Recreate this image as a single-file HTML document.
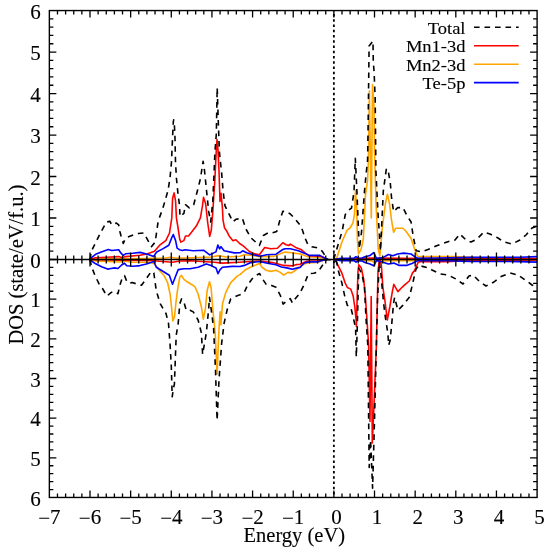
<!DOCTYPE html>
<html><head><meta charset="utf-8"><title>DOS</title>
<style>html,body{margin:0;padding:0;background:#fff;}svg{display:block;}text{font-family:"Liberation Serif","Times New Roman",serif;fill:#000;stroke:#000;stroke-width:0.12px;}</style>
</head><body>
<svg width="550" height="554" viewBox="0 0 550 554">
<rect x="0" y="0" width="550" height="554" fill="#fff"/>
<polyline points="89.3,259.5 95.7,260.9 107.5,261.5 119.2,262.0 124.5,260.9 131.0,262.3 140.0,262.3 149.8,262.3 154.6,263.9 159.5,270.4 164.4,276.1 167.6,282.6 170.1,294.0 171.7,308.7 172.8,320.9 174.5,316.8 175.8,303.8 177.4,290.8 179.8,277.0 181.5,275.3 183.9,279.4 187.2,281.8 190.0,283.5 194.9,286.7 198.1,294.0 201.4,307.0 203.3,319.2 205.4,308.7 207.1,290.8 209.5,281.8 211.1,287.5 212.8,308.7 215.2,333.0 217.1,374.2 218.5,340.0 219.3,323.3 220.1,311.9 220.9,324.9 222.5,303.8 225.8,292.4 230.7,282.6 237.2,276.1 240.0,274.6 245.5,269.7 250.9,267.0 256.4,264.8 259.6,263.2 261.8,267.0 266.2,270.3 270.5,271.4 276.0,270.3 280.3,272.4 283.6,275.2 288.0,272.4 291.3,273.0 295.6,270.3 298.7,267.3 306.3,263.0 317.1,262.5 325.8,259.5" fill="none" stroke="#ffa500" stroke-width="1.6" stroke-linejoin="round"/><polyline points="334.0,259.5 350.0,260.5 365.0,260.5 372.0,261.0 374.5,263.0 377.0,261.0 400.0,260.5 432.0,261.0 470.0,260.5 537.1,260.0" fill="none" stroke="#ffa500" stroke-width="1.6" stroke-linejoin="round"/>
<polyline points="89.3,259.5 107.0,258.7 144.0,258.5 165.0,258.0 170.3,257.3 175.0,258.0 185.0,258.0 211.7,257.0 217.9,255.6 226.2,257.0 240.0,256.2 244.0,254.8 253.4,255.5 260.0,256.8 273.4,256.4 282.8,252.8 285.0,252.1 291.7,252.8 301.0,254.1 307.7,256.8 319.7,257.4 325.8,258.5 327.7,259.4" fill="none" stroke="#ffa500" stroke-width="1.6" stroke-linejoin="round"/><polyline points="334.0,259.5 336.7,258.3 339.5,249.5 341.9,242.0 344.5,236.0 347.1,230.2 350.0,228.0 353.0,222.8 354.5,214.0 355.5,190.3 356.7,209.5 357.4,239.1 358.5,253.9 361.1,249.4 363.3,239.1 364.8,209.5 365.5,194.8 367.6,180.0 368.4,160.0 369.4,90.8 371.3,218.0 372.5,84.5 374.0,107.0 374.5,150.0 376.1,205.0 378.2,248.8 379.8,256.0 382.3,228.2 385.4,203.5 387.4,194.2 389.5,203.5 391.5,220.0 393.6,232.3 395.7,228.2 402.9,228.2 406.0,231.3 411.1,238.5 415.2,250.8 417.6,256.2 420.0,256.5 453.6,256.5 470.0,257.3 500.0,258.5 537.1,258.8" fill="none" stroke="#ffa500" stroke-width="1.6" stroke-linejoin="round"/>
<polyline points="89.0,259.5 120.0,260.3 150.0,260.5 172.5,262.3 180.0,261.0 190.0,260.7 214.4,262.3 222.5,263.1 238.8,262.3 250.9,261.5 259.6,261.0 272.7,262.6 283.6,265.4 292.3,265.9 296.5,264.6 300.0,264.3 306.3,261.4 317.1,260.8 325.8,259.5" fill="none" stroke="#ff0000" stroke-width="1.6" stroke-linejoin="round"/><polyline points="334.0,259.5 335.3,259.9 338.5,266.4 341.8,272.9 345.0,282.6 347.4,287.5 350.7,289.1 353.1,295.7 354.8,307.0 356.1,320.0 356.4,326.5 357.2,295.7 358.0,271.3 358.8,264.8 361.3,268.0 363.7,279.4 365.3,295.7 367.0,320.0 368.6,345.0 370.0,421.5 371.2,296.5 372.3,443.0 374.2,400.0 376.4,345.0 378.0,271.3 379.6,258.3 381.3,264.8 382.9,287.5 384.9,300.5 387.3,320.0 389.8,307.0 392.2,292.4 393.8,284.3 397.9,291.6 401.1,288.3 404.4,285.1 409.3,281.0 412.5,272.9 414.4,270.9 418.2,262.2 420.0,261.7 448.0,261.7 470.0,260.3 537.1,260.0" fill="none" stroke="#ff0000" stroke-width="1.6" stroke-linejoin="round"/>
<polyline points="89.2,259.5 95.6,257.8 107.1,257.2 118.7,256.6 122.1,257.8 125.6,256.6 140.0,255.3 147.0,254.0 154.4,251.2 159.7,245.2 165.8,240.6 169.5,233.0 171.8,217.9 172.6,198.2 174.1,192.9 175.6,201.2 176.4,217.9 177.9,227.0 179.7,239.1 180.9,242.1 183.9,240.6 185.5,236.0 188.5,236.0 191.5,232.3 196.3,226.1 200.4,217.9 202.5,205.6 203.5,197.3 205.6,203.5 207.6,222.0 209.7,236.4 211.3,230.2 212.8,211.7 214.8,180.9 216.3,150.0 217.0,139.6 218.0,150.0 219.0,170.6 220.0,201.4 221.0,193.2 222.4,207.6 223.0,219.8 224.5,227.8 226.5,230.7 229.0,235.7 232.9,240.7 235.9,239.7 239.9,243.7 242.9,245.6 247.8,250.0 249.4,251.5 254.7,253.9 259.4,254.8 264.7,247.5 270.7,248.8 277.4,248.2 282.8,242.8 286.1,244.8 289.0,245.4 290.3,244.1 295.7,247.4 301.0,249.4 305.0,252.8 309.0,255.7 319.7,256.1 325.0,258.1 327.7,259.4" fill="none" stroke="#ff0000" stroke-width="1.6" stroke-linejoin="round"/><polyline points="334.0,259.5 372.0,258.0 432.0,258.5 537.1,258.5" fill="none" stroke="#ff0000" stroke-width="1.6" stroke-linejoin="round"/>
<polyline points="89.3,259.5 95.7,263.8 101.6,266.7 107.5,269.1 111.0,268.5 114.5,267.9 118.0,268.5 121.6,265.0 124.5,263.2 126.8,265.8 133.3,266.2 140.0,265.6 146.5,263.9 153.8,261.5 156.3,267.2 162.8,271.3 169.3,275.3 172.5,284.3 175.0,277.8 178.2,269.6 183.9,268.8 190.0,268.8 198.1,267.2 206.3,263.9 211.1,265.6 216.0,268.0 218.0,273.7 220.1,269.6 222.5,267.2 232.3,266.4 240.0,266.5 244.4,265.4 250.9,262.6 259.6,261.5 267.3,263.2 276.0,264.8 281.4,267.0 288.0,268.1 292.3,269.2 296.7,268.1 300.0,267.5 304.1,263.0 309.5,261.9 317.1,261.9 325.8,259.5" fill="none" stroke="#0000ff" stroke-width="1.6" stroke-linejoin="round"/><polyline points="334.0,259.5 341.0,260.7 354.0,260.7 356.0,262.2 358.0,260.7 362.0,261.0 365.0,262.5 370.0,264.0 373.8,265.8 376.5,260.4 382.9,262.2 388.4,264.0 393.8,263.1 399.3,265.4 406.5,265.4 412.0,263.5 417.5,260.8 440.0,260.5 470.0,261.4 520.0,261.6 537.1,262.1" fill="none" stroke="#0000ff" stroke-width="1.6" stroke-linejoin="round"/>
<polyline points="89.2,259.5 95.6,254.3 101.3,252.0 108.3,249.5 111.7,250.5 118.7,249.7 121.0,253.2 123.3,255.3 125.6,253.8 132.6,253.2 140.0,252.4 147.6,254.2 153.6,256.5 156.7,252.0 162.7,248.9 168.8,245.2 171.8,237.6 173.3,234.5 175.6,240.6 177.1,248.2 179.4,249.7 182.4,250.5 185.0,249.8 193.2,250.8 203.5,250.2 209.7,254.9 215.9,251.9 217.9,245.1 219.6,248.8 221.0,246.7 224.1,250.8 234.4,252.9 240.0,252.8 242.7,250.8 246.7,252.8 253.4,254.8 260.0,256.2 266.7,254.8 276.1,254.2 282.8,249.5 285.0,248.7 290.3,248.7 298.4,250.7 305.0,253.4 309.0,255.4 319.7,255.4 325.0,258.1 327.7,259.4" fill="none" stroke="#0000ff" stroke-width="1.6" stroke-linejoin="round"/><polyline points="334.0,259.5 341.0,258.2 354.0,258.2 356.0,256.7 358.0,258.2 362.0,258.0 365.0,256.7 370.0,255.5 373.8,252.6 376.5,258.5 382.9,257.6 388.4,254.5 392.9,255.8 397.5,254.0 403.8,253.1 411.1,254.0 414.7,256.7 417.5,258.3 440.0,258.0 470.0,257.4 520.0,257.2 537.1,256.6" fill="none" stroke="#0000ff" stroke-width="1.6" stroke-linejoin="round"/>
<polyline points="89.9,259.5 91.6,266.7 95.2,276.1 99.3,284.3 102.8,289.0 106.9,296.1 111.0,292.6 113.3,291.4 118.0,293.7 119.8,285.5 122.1,278.5 124.5,275.5 126.3,280.2 128.6,283.2 132.1,282.6 138.0,284.3 141.5,285.3 145.7,279.4 151.4,271.3 153.8,272.9 156.3,290.8 160.3,303.8 166.0,313.5 168.5,323.3 170.1,345.0 171.3,366.1 172.2,396.8 173.5,387.8 174.4,384.2 176.2,335.4 178.2,323.3 179.8,303.8 181.5,298.9 183.9,302.2 186.3,310.3 190.0,310.3 193.3,311.9 198.1,320.0 201.4,333.0 202.6,354.4 206.3,333.0 208.7,308.7 209.5,297.3 211.1,308.7 213.6,328.2 215.5,370.0 217.1,420.3 219.0,380.0 221.7,342.8 224.1,323.3 227.4,308.7 230.7,298.9 237.2,295.7 241.0,294.5 244.4,292.1 247.6,285.0 252.0,279.0 256.4,275.2 259.6,273.5 261.8,277.9 266.2,284.4 271.6,285.5 276.0,287.2 280.3,295.3 283.1,304.1 286.9,300.8 290.2,298.6 292.5,303.0 294.3,299.8 299.8,293.3 304.1,284.7 308.4,273.8 313.8,273.3 318.2,271.7 322.5,265.2 325.8,260.8 326.8,259.5 334.4,259.9 336.6,261.9 338.5,271.3 341.8,282.6 345.0,297.3 347.4,305.4 350.7,307.0 353.1,316.8 355.6,328.2 356.3,357.0 357.2,330.0 358.8,268.0 362.1,274.5 364.5,287.5 366.1,320.0 367.8,345.0 369.2,467.5 370.6,440.0 372.6,488.2 374.5,420.0 376.4,345.0 377.5,300.0 379.3,262.0 381.0,275.0 383.7,303.8 385.3,316.8 387.8,333.0 388.7,345.3 390.2,340.0 391.8,323.3 393.5,303.8 394.6,297.3 397.9,310.3 402.8,305.4 409.3,297.3 412.5,284.3 415.8,269.6 419.0,264.8 422.3,266.4 428.8,268.0 432.0,270.0 440.0,274.0 448.0,275.0 456.0,279.0 463.0,284.0 469.0,276.0 473.0,275.0 480.0,282.0 486.0,286.0 494.0,282.0 500.0,277.0 510.0,273.0 518.0,275.0 528.0,282.0 532.0,285.0 537.1,287.0" fill="none" stroke="#000" stroke-width="1.6" stroke-linejoin="round" stroke-dasharray="5.6,4.9"/>
<polyline points="90.4,259.5 90.9,252.0 95.6,242.8 100.2,233.5 106.5,222.0 110.0,221.4 111.7,224.9 116.4,223.1 118.7,224.9 119.8,231.2 121.0,235.8 123.3,243.4 125.0,239.3 127.9,237.0 133.7,234.7 138.3,233.5 143.8,233.0 151.4,246.7 155.2,242.1 158.2,220.9 162.7,208.8 168.0,190.6 170.0,178.0 171.5,161.8 172.7,134.5 173.3,122.0 173.7,119.8 174.2,122.0 174.9,134.5 175.5,161.8 176.4,178.0 178.0,193.9 179.4,204.2 180.1,216.6 183.9,213.3 185.5,204.7 189.3,207.9 193.7,204.7 197.3,191.2 200.4,178.8 203.1,161.3 204.5,170.6 206.6,191.2 208.7,211.7 210.7,222.0 212.8,201.4 214.0,173.9 214.9,152.2 216.3,134.2 217.2,87.6 218.1,116.1 219.4,152.2 221.7,173.9 223.1,191.2 225.0,205.9 229.0,213.9 232.9,221.8 235.9,219.3 242.4,218.3 245.8,228.8 250.8,237.7 255.0,241.5 259.4,245.5 263.4,235.5 268.1,232.8 272.1,232.8 276.8,231.4 280.1,219.4 282.8,211.4 286.1,211.4 290.3,214.0 294.3,218.0 299.7,224.7 302.4,230.0 305.0,238.0 307.7,244.1 311.7,246.7 318.4,248.1 322.4,251.4 325.7,256.8 327.7,259.4" fill="none" stroke="#000" stroke-width="1.6" stroke-linejoin="round" stroke-dasharray="5.6,4.9"/><polyline points="333.7,259.5 337.1,248.0 342.2,231.0 345.3,214.5 348.1,210.7 351.5,208.1 354.0,192.0 355.3,158.2 356.9,191.2 358.4,228.2 359.4,248.8 361.5,232.3 364.5,191.2 366.0,174.9 367.6,160.3 368.2,120.0 369.1,46.0 373.0,41.0 373.3,62.6 374.1,71.7 375.2,99.4 375.9,170.6 377.9,211.7 380.5,251.0 383.3,191.2 386.4,168.5 388.5,172.6 390.3,182.9 391.5,197.3 393.6,211.7 397.7,207.6 402.9,207.6 407.0,215.8 411.1,222.0 413.2,236.4 416.2,250.8 421.4,251.9 428.0,249.6 436.0,246.0 444.0,243.0 450.0,241.0 455.0,240.0 460.0,234.0 466.0,240.0 471.0,242.0 477.0,239.0 484.0,232.0 490.0,234.0 498.0,238.0 504.0,242.0 512.0,244.0 520.0,240.0 526.0,235.0 532.0,228.0 537.1,226.0" fill="none" stroke="#000" stroke-width="1.6" stroke-linejoin="round" stroke-dasharray="5.6,4.9"/>
<path d="M49.36 259.5H537.1" stroke="#000" stroke-width="1.5"/>
<path d="M333.87 10.56V497.46" stroke="#000" stroke-width="1.8" stroke-dasharray="2.4,2.852" stroke-dashoffset="1.754"/>
<path d="M57.48 10.56L57.48 14.56M57.48 497.46L57.48 493.46M57.48 255.50L57.48 263.50M65.61 10.56L65.61 14.56M65.61 497.46L65.61 493.46M65.61 255.50L65.61 263.50M73.74 10.56L73.74 14.56M73.74 497.46L73.74 493.46M73.74 255.50L73.74 263.50M81.87 10.56L81.87 14.56M81.87 497.46L81.87 493.46M81.87 255.50L81.87 263.50M90.00 10.56L90.00 17.56M90.00 497.46L90.00 490.46M90.00 252.50L90.00 266.50M98.13 10.56L98.13 14.56M98.13 497.46L98.13 493.46M98.13 255.50L98.13 263.50M106.26 10.56L106.26 14.56M106.26 497.46L106.26 493.46M106.26 255.50L106.26 263.50M114.39 10.56L114.39 14.56M114.39 497.46L114.39 493.46M114.39 255.50L114.39 263.50M122.52 10.56L122.52 14.56M122.52 497.46L122.52 493.46M122.52 255.50L122.52 263.50M130.64 10.56L130.64 17.56M130.64 497.46L130.64 490.46M130.64 252.50L130.64 266.50M138.77 10.56L138.77 14.56M138.77 497.46L138.77 493.46M138.77 255.50L138.77 263.50M146.90 10.56L146.90 14.56M146.90 497.46L146.90 493.46M146.90 255.50L146.90 263.50M155.03 10.56L155.03 14.56M155.03 497.46L155.03 493.46M155.03 255.50L155.03 263.50M163.16 10.56L163.16 14.56M163.16 497.46L163.16 493.46M163.16 255.50L163.16 263.50M171.29 10.56L171.29 17.56M171.29 497.46L171.29 490.46M171.29 252.50L171.29 266.50M179.42 10.56L179.42 14.56M179.42 497.46L179.42 493.46M179.42 255.50L179.42 263.50M187.55 10.56L187.55 14.56M187.55 497.46L187.55 493.46M187.55 255.50L187.55 263.50M195.68 10.56L195.68 14.56M195.68 497.46L195.68 493.46M195.68 255.50L195.68 263.50M203.81 10.56L203.81 14.56M203.81 497.46L203.81 493.46M203.81 255.50L203.81 263.50M211.94 10.56L211.94 17.56M211.94 497.46L211.94 490.46M211.94 252.50L211.94 266.50M220.06 10.56L220.06 14.56M220.06 497.46L220.06 493.46M220.06 255.50L220.06 263.50M228.19 10.56L228.19 14.56M228.19 497.46L228.19 493.46M228.19 255.50L228.19 263.50M236.32 10.56L236.32 14.56M236.32 497.46L236.32 493.46M236.32 255.50L236.32 263.50M244.45 10.56L244.45 14.56M244.45 497.46L244.45 493.46M244.45 255.50L244.45 263.50M252.58 10.56L252.58 17.56M252.58 497.46L252.58 490.46M252.58 252.50L252.58 266.50M260.71 10.56L260.71 14.56M260.71 497.46L260.71 493.46M260.71 255.50L260.71 263.50M268.84 10.56L268.84 14.56M268.84 497.46L268.84 493.46M268.84 255.50L268.84 263.50M276.97 10.56L276.97 14.56M276.97 497.46L276.97 493.46M276.97 255.50L276.97 263.50M285.10 10.56L285.10 14.56M285.10 497.46L285.10 493.46M285.10 255.50L285.10 263.50M293.23 10.56L293.23 17.56M293.23 497.46L293.23 490.46M293.23 252.50L293.23 266.50M301.35 10.56L301.35 14.56M301.35 497.46L301.35 493.46M301.35 255.50L301.35 263.50M309.48 10.56L309.48 14.56M309.48 497.46L309.48 493.46M309.48 255.50L309.48 263.50M317.61 10.56L317.61 14.56M317.61 497.46L317.61 493.46M317.61 255.50L317.61 263.50M325.74 10.56L325.74 14.56M325.74 497.46L325.74 493.46M325.74 255.50L325.74 263.50M333.87 10.56L333.87 17.56M333.87 497.46L333.87 490.46M333.87 252.50L333.87 266.50M342.00 10.56L342.00 14.56M342.00 497.46L342.00 493.46M342.00 255.50L342.00 263.50M350.13 10.56L350.13 14.56M350.13 497.46L350.13 493.46M350.13 255.50L350.13 263.50M358.26 10.56L358.26 14.56M358.26 497.46L358.26 493.46M358.26 255.50L358.26 263.50M366.39 10.56L366.39 14.56M366.39 497.46L366.39 493.46M366.39 255.50L366.39 263.50M374.51 10.56L374.51 17.56M374.51 497.46L374.51 490.46M374.51 252.50L374.51 266.50M382.64 10.56L382.64 14.56M382.64 497.46L382.64 493.46M382.64 255.50L382.64 263.50M390.77 10.56L390.77 14.56M390.77 497.46L390.77 493.46M390.77 255.50L390.77 263.50M398.90 10.56L398.90 14.56M398.90 497.46L398.90 493.46M398.90 255.50L398.90 263.50M407.03 10.56L407.03 14.56M407.03 497.46L407.03 493.46M407.03 255.50L407.03 263.50M415.16 10.56L415.16 17.56M415.16 497.46L415.16 490.46M415.16 252.50L415.16 266.50M423.29 10.56L423.29 14.56M423.29 497.46L423.29 493.46M423.29 255.50L423.29 263.50M431.42 10.56L431.42 14.56M431.42 497.46L431.42 493.46M431.42 255.50L431.42 263.50M439.55 10.56L439.55 14.56M439.55 497.46L439.55 493.46M439.55 255.50L439.55 263.50M447.68 10.56L447.68 14.56M447.68 497.46L447.68 493.46M447.68 255.50L447.68 263.50M455.81 10.56L455.81 17.56M455.81 497.46L455.81 490.46M455.81 252.50L455.81 266.50M463.93 10.56L463.93 14.56M463.93 497.46L463.93 493.46M463.93 255.50L463.93 263.50M472.06 10.56L472.06 14.56M472.06 497.46L472.06 493.46M472.06 255.50L472.06 263.50M480.19 10.56L480.19 14.56M480.19 497.46L480.19 493.46M480.19 255.50L480.19 263.50M488.32 10.56L488.32 14.56M488.32 497.46L488.32 493.46M488.32 255.50L488.32 263.50M496.45 10.56L496.45 17.56M496.45 497.46L496.45 490.46M496.45 252.50L496.45 266.50M504.58 10.56L504.58 14.56M504.58 497.46L504.58 493.46M504.58 255.50L504.58 263.50M512.71 10.56L512.71 14.56M512.71 497.46L512.71 493.46M512.71 255.50L512.71 263.50M520.84 10.56L520.84 14.56M520.84 497.46L520.84 493.46M520.84 255.50L520.84 263.50M528.97 10.56L528.97 14.56M528.97 497.46L528.97 493.46M528.97 255.50L528.97 263.50M49.36 251.20L53.36 251.20M537.10 251.20L533.10 251.20M49.36 267.43L53.36 267.43M537.10 267.43L533.10 267.43M49.36 242.90L53.36 242.90M537.10 242.90L533.10 242.90M49.36 275.36L53.36 275.36M537.10 275.36L533.10 275.36M49.36 234.61L53.36 234.61M537.10 234.61L533.10 234.61M49.36 283.30L53.36 283.30M537.10 283.30L533.10 283.30M49.36 226.31L53.36 226.31M537.10 226.31L533.10 226.31M49.36 291.23L53.36 291.23M537.10 291.23L533.10 291.23M49.36 218.01L56.36 218.01M537.10 218.01L530.10 218.01M49.36 299.16L56.36 299.16M537.10 299.16L530.10 299.16M49.36 209.71L53.36 209.71M537.10 209.71L533.10 209.71M49.36 307.09L53.36 307.09M537.10 307.09L533.10 307.09M49.36 201.41L53.36 201.41M537.10 201.41L533.10 201.41M49.36 315.02L53.36 315.02M537.10 315.02L533.10 315.02M49.36 193.12L53.36 193.12M537.10 193.12L533.10 193.12M49.36 322.96L53.36 322.96M537.10 322.96L533.10 322.96M49.36 184.82L53.36 184.82M537.10 184.82L533.10 184.82M49.36 330.89L53.36 330.89M537.10 330.89L533.10 330.89M49.36 176.52L56.36 176.52M537.10 176.52L530.10 176.52M49.36 338.82L56.36 338.82M537.10 338.82L530.10 338.82M49.36 168.22L53.36 168.22M537.10 168.22L533.10 168.22M49.36 346.75L53.36 346.75M537.10 346.75L533.10 346.75M49.36 159.92L53.36 159.92M537.10 159.92L533.10 159.92M49.36 354.68L53.36 354.68M537.10 354.68L533.10 354.68M49.36 151.63L53.36 151.63M537.10 151.63L533.10 151.63M49.36 362.62L53.36 362.62M537.10 362.62L533.10 362.62M49.36 143.33L53.36 143.33M537.10 143.33L533.10 143.33M49.36 370.55L53.36 370.55M537.10 370.55L533.10 370.55M49.36 135.03L56.36 135.03M537.10 135.03L530.10 135.03M49.36 378.48L56.36 378.48M537.10 378.48L530.10 378.48M49.36 126.73L53.36 126.73M537.10 126.73L533.10 126.73M49.36 386.41L53.36 386.41M537.10 386.41L533.10 386.41M49.36 118.43L53.36 118.43M537.10 118.43L533.10 118.43M49.36 394.34L53.36 394.34M537.10 394.34L533.10 394.34M49.36 110.14L53.36 110.14M537.10 110.14L533.10 110.14M49.36 402.28L53.36 402.28M537.10 402.28L533.10 402.28M49.36 101.84L53.36 101.84M537.10 101.84L533.10 101.84M49.36 410.21L53.36 410.21M537.10 410.21L533.10 410.21M49.36 93.54L56.36 93.54M537.10 93.54L530.10 93.54M49.36 418.14L56.36 418.14M537.10 418.14L530.10 418.14M49.36 85.24L53.36 85.24M537.10 85.24L533.10 85.24M49.36 426.07L53.36 426.07M537.10 426.07L533.10 426.07M49.36 76.94L53.36 76.94M537.10 76.94L533.10 76.94M49.36 434.00L53.36 434.00M537.10 434.00L533.10 434.00M49.36 68.65L53.36 68.65M537.10 68.65L533.10 68.65M49.36 441.94L53.36 441.94M537.10 441.94L533.10 441.94M49.36 60.35L53.36 60.35M537.10 60.35L533.10 60.35M49.36 449.87L53.36 449.87M537.10 449.87L533.10 449.87M49.36 52.05L56.36 52.05M537.10 52.05L530.10 52.05M49.36 457.80L56.36 457.80M537.10 457.80L530.10 457.80M49.36 43.75L53.36 43.75M537.10 43.75L533.10 43.75M49.36 465.73L53.36 465.73M537.10 465.73L533.10 465.73M49.36 35.45L53.36 35.45M537.10 35.45L533.10 35.45M49.36 473.66L53.36 473.66M537.10 473.66L533.10 473.66M49.36 27.16L53.36 27.16M537.10 27.16L533.10 27.16M49.36 481.60L53.36 481.60M537.10 481.60L533.10 481.60M49.36 18.86L53.36 18.86M537.10 18.86L533.10 18.86M49.36 489.53L53.36 489.53M537.10 489.53L533.10 489.53M49.36 259.50L56.36 259.50" stroke="#000" stroke-width="1.3" fill="none"/>
<rect x="49.36" y="10.56" width="487.74" height="486.9" fill="none" stroke="#000" stroke-width="1.4"/>
<path d="M474 27.3H518.7" stroke="#000" stroke-width="1.6" stroke-dasharray="5.6,4.9"/>
<text x="427.75" y="33.6" font-size="17.6" textLength="37.75" lengthAdjust="spacingAndGlyphs">Total</text>
<path d="M474 45.8H518.7" stroke="#ff0000" stroke-width="1.6"/>
<text x="405.90" y="52.1" font-size="17.6" textLength="59.6" lengthAdjust="spacingAndGlyphs">Mn1-3d</text>
<path d="M474 64.2H518.7" stroke="#ffa500" stroke-width="1.6"/>
<text x="405.90" y="70.5" font-size="17.6" textLength="59.6" lengthAdjust="spacingAndGlyphs">Mn2-3d</text>
<path d="M474 82.6H518.7" stroke="#0000ff" stroke-width="1.6"/>
<text x="422.60" y="88.9" font-size="17.6" textLength="42.9" lengthAdjust="spacingAndGlyphs">Te-5p</text>
<text x="49.4" y="524" text-anchor="middle" font-size="21"><tspan dy="1">−</tspan><tspan dy="-1">7</tspan></text>
<text x="90.0" y="524" text-anchor="middle" font-size="21"><tspan dy="1">−</tspan><tspan dy="-1">6</tspan></text>
<text x="130.6" y="524" text-anchor="middle" font-size="21"><tspan dy="1">−</tspan><tspan dy="-1">5</tspan></text>
<text x="171.3" y="524" text-anchor="middle" font-size="21"><tspan dy="1">−</tspan><tspan dy="-1">4</tspan></text>
<text x="211.9" y="524" text-anchor="middle" font-size="21"><tspan dy="1">−</tspan><tspan dy="-1">3</tspan></text>
<text x="252.6" y="524" text-anchor="middle" font-size="21"><tspan dy="1">−</tspan><tspan dy="-1">2</tspan></text>
<text x="293.2" y="524" text-anchor="middle" font-size="21"><tspan dy="1">−</tspan><tspan dy="-1">1</tspan></text>
<text x="336.4" y="524" text-anchor="middle" font-size="21">0</text>
<text x="377.0" y="524" text-anchor="middle" font-size="21">1</text>
<text x="417.7" y="524" text-anchor="middle" font-size="21">2</text>
<text x="458.3" y="524" text-anchor="middle" font-size="21">3</text>
<text x="499.0" y="524" text-anchor="middle" font-size="21">4</text>
<text x="539.6" y="524" text-anchor="middle" font-size="21">5</text>
<text x="40.8" y="267.7" text-anchor="end" font-size="21">0</text>
<text x="40.8" y="226.2" text-anchor="end" font-size="21">1</text>
<text x="40.8" y="184.7" text-anchor="end" font-size="21">2</text>
<text x="40.8" y="143.2" text-anchor="end" font-size="21">3</text>
<text x="40.8" y="101.7" text-anchor="end" font-size="21">4</text>
<text x="40.8" y="60.2" text-anchor="end" font-size="21">5</text>
<text x="40.8" y="18.8" text-anchor="end" font-size="21">6</text>
<text x="40.8" y="307.4" text-anchor="end" font-size="21">1</text>
<text x="40.8" y="347.0" text-anchor="end" font-size="21">2</text>
<text x="40.8" y="386.7" text-anchor="end" font-size="21">3</text>
<text x="40.8" y="426.3" text-anchor="end" font-size="21">4</text>
<text x="40.8" y="466.0" text-anchor="end" font-size="21">5</text>
<text x="40.8" y="505.7" text-anchor="end" font-size="21">6</text>
<text x="294.3" y="541.8" text-anchor="middle" font-size="20.5">Energy (eV)</text>
<text transform="translate(23.3,264.6) rotate(-90)" text-anchor="middle" font-size="20.5">DOS (state/eV/f.u.)</text>
</svg>
</body></html>
